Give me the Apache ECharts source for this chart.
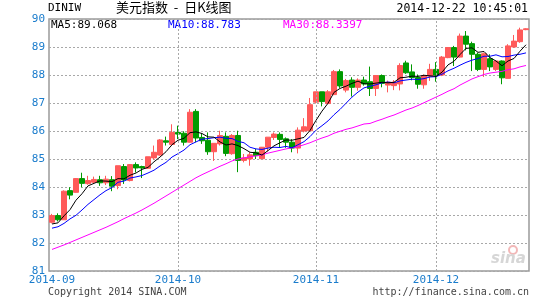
<!DOCTYPE html>
<html>
<head>
<meta charset="utf-8">
<script src="https://cdn.jsdelivr.net/npm/echarts@6/dist/echarts.min.js"></script>
<style>
html,body{margin:0;padding:0;background:#fff;}
#c{width:545px;height:300px;}
</style>
</head>
<body>
<div id="c"></div>
<script>
// ---- data ----
const categories = [
 '2014-09-02','2014-09-03','2014-09-04','2014-09-05','2014-09-08','2014-09-09','2014-09-10','2014-09-11','2014-09-12','2014-09-15',
 '2014-09-16','2014-09-17','2014-09-18','2014-09-19','2014-09-22','2014-09-23','2014-09-24','2014-09-25','2014-09-26','2014-09-29',
 '2014-09-30',
 '2014-10-01','2014-10-02','2014-10-03','2014-10-06','2014-10-07','2014-10-08','2014-10-09','2014-10-10','2014-10-13','2014-10-14',
 '2014-10-15','2014-10-16','2014-10-17','2014-10-20','2014-10-21','2014-10-22','2014-10-23','2014-10-24','2014-10-27','2014-10-28',
 '2014-10-29','2014-10-30','2014-10-31',
 '2014-11-03','2014-11-04','2014-11-05','2014-11-06','2014-11-07','2014-11-10','2014-11-11','2014-11-12','2014-11-13','2014-11-14',
 '2014-11-17','2014-11-18','2014-11-19','2014-11-20','2014-11-21','2014-11-24','2014-11-25','2014-11-26','2014-11-27','2014-11-28',
 '2014-12-01','2014-12-02','2014-12-03','2014-12-04','2014-12-05','2014-12-08','2014-12-09','2014-12-10','2014-12-11','2014-12-12',
 '2014-12-15','2014-12-16','2014-12-17','2014-12-18','2014-12-19','2014-12-22'
];
const opens = [
 82.74,82.98,82.83,83.87,83.81,84.30,84.12,84.17,84.26,84.15,
 84.26,84.05,84.73,84.23,84.80,84.73,84.67,85.04,85.14,85.65,
 85.52,85.95,85.92,85.60,86.70,85.77,85.67,85.26,85.54,85.81,
 85.19,85.84,84.95,85.00,85.24,85.01,85.42,85.77,85.88,85.72,
 85.60,85.39,86.00,86.01,87.03,87.40,86.98,87.30,88.12,87.46,
 87.82,87.56,87.82,87.76,87.52,87.98,87.64,87.62,87.68,88.43,
 88.11,87.91,87.65,87.96,88.20,88.00,88.62,88.98,88.64,89.39,
 89.12,88.74,88.20,88.58,88.20,88.50,87.88,89.00,89.19,89.62
];
const closes = [
 82.98,82.83,83.85,83.71,84.30,84.13,84.23,84.27,84.15,84.28,
 84.03,84.76,84.25,84.80,84.68,84.68,85.08,85.24,85.68,85.60,
 85.95,85.89,85.60,86.67,85.75,85.65,85.26,85.56,85.84,85.20,
 85.84,84.95,85.04,85.15,85.12,85.42,85.78,85.89,85.70,85.60,
 85.39,86.03,86.15,86.94,87.40,87.05,87.40,88.12,87.61,87.80,
 87.56,87.82,87.68,87.52,87.98,87.70,87.74,87.74,88.34,88.08,
 87.91,87.67,87.97,88.20,88.00,88.64,88.98,88.64,89.39,89.10,
 88.74,88.20,88.76,88.29,88.50,87.90,89.04,89.21,89.61,89.65
];
const lows = [
 82.70,82.77,82.82,83.56,83.80,83.99,84.08,84.11,84.04,84.07,
 83.85,83.92,84.11,84.20,84.52,84.32,84.65,84.98,85.12,85.48,
 85.46,85.71,85.48,85.59,85.60,85.54,85.15,84.93,85.48,85.10,
 85.15,84.53,84.88,84.76,85.00,85.00,85.27,85.68,85.42,85.40,
 85.24,85.20,85.95,85.99,86.98,86.88,86.96,87.28,87.54,87.38,
 87.23,87.44,87.62,87.25,87.25,87.56,87.38,87.46,87.45,88.04,
 87.81,87.51,87.51,87.79,87.76,87.96,88.60,88.32,88.62,88.88,
 88.14,88.14,87.93,88.14,88.14,87.67,87.88,88.98,89.15,89.60
];
const highs = [
 83.04,83.06,83.88,83.99,84.32,84.51,84.40,84.37,84.40,84.40,
 84.39,84.76,84.82,84.82,84.88,84.76,85.08,85.48,85.71,85.80,
 86.24,86.19,85.99,86.78,86.78,85.92,85.95,85.57,86.01,85.95,
 85.89,86.01,85.18,85.24,85.36,85.43,85.78,85.95,85.95,85.77,
 85.71,86.13,86.46,87.18,87.40,87.40,87.46,88.18,88.20,87.86,
 87.92,87.88,87.94,88.30,88.00,88.02,87.80,87.82,88.42,88.51,
 88.38,88.02,88.02,88.40,88.46,88.68,89.00,89.04,89.48,89.57,
 89.19,88.80,88.80,88.74,88.52,88.52,89.10,89.43,89.69,89.67
];
const ma5 = [
 82.68,82.72,82.97,83.19,83.53,83.76,84.04,84.13,84.22,84.21,
 84.19,84.30,84.29,84.42,84.50,84.63,84.70,84.90,85.07,85.26,
 85.51,85.67,85.74,85.94,85.97,85.91,85.79,85.78,85.61,85.50,
 85.54,85.48,85.37,85.24,85.22,85.14,85.30,85.47,85.58,85.68,
 85.67,85.72,85.77,86.02,86.38,86.71,86.99,87.38,87.52,87.60,
 87.70,87.78,87.69,87.68,87.71,87.74,87.72,87.74,87.90,87.92,
 87.96,87.95,87.99,87.97,87.95,88.10,88.36,88.49,88.73,88.95,
 88.97,88.81,88.84,88.62,88.50,88.33,88.50,88.59,88.85,89.08
];
const ma10 = [
 82.53,82.58,82.70,82.86,82.99,83.18,83.38,83.55,83.72,83.87,
 83.98,84.17,84.21,84.32,84.36,84.41,84.50,84.60,84.75,84.88,
 85.07,85.19,85.32,85.51,85.61,85.71,85.73,85.76,85.78,85.74,
 85.73,85.63,85.58,85.42,85.36,85.34,85.39,85.42,85.41,85.45,
 85.40,85.51,85.62,85.80,86.03,86.19,86.36,86.58,86.77,86.99,
 87.21,87.39,87.54,87.60,87.65,87.72,87.75,87.72,87.79,87.82,
 87.85,87.84,87.87,87.93,87.94,88.03,88.15,88.24,88.35,88.45,
 88.53,88.59,88.67,88.67,88.72,88.65,88.66,88.71,88.74,88.79
];
const ma30 = [
 81.77,81.85,81.93,82.02,82.11,82.20,82.29,82.38,82.47,82.56,
 82.66,82.76,82.87,82.97,83.07,83.18,83.30,83.42,83.55,83.68,
 83.81,83.94,84.07,84.20,84.33,84.44,84.54,84.64,84.74,84.83,
 84.93,85.00,85.04,85.08,85.11,85.15,85.21,85.26,85.31,85.36,
 85.40,85.44,85.51,85.58,85.67,85.75,85.82,85.92,85.99,86.06,
 86.11,86.18,86.25,86.27,86.35,86.42,86.50,86.57,86.66,86.75,
 86.82,86.91,87.01,87.11,87.21,87.31,87.42,87.51,87.64,87.75,
 87.86,87.94,88.02,88.07,88.10,88.13,88.19,88.22,88.29,88.34
];
const maLabels = ['MA5:89.068', 'MA10:88.783', 'MA30:88.3397'];
const yTicks = [81, 82, 83, 84, 85, 86, 87, 88, 89, 90];

// ---- chart ----
const MONO = '"DejaVu Sans Mono","Liberation Mono",monospace';
const BLUE_TXT = '#1a7ccc';
const UP = '#ff5a5a', DOWN = '#009a00';
const candleData = categories.map((d, i) => [opens[i], closes[i], lows[i], highs[i]]);
const monthStart = i => i === 0 || categories[i].slice(0, 7) !== categories[i - 1].slice(0, 7);
const monthLines = categories.filter((d, i) => i > 0 && monthStart(i)).map(d => ({ xAxis: d }));

const chart = echarts.init(document.getElementById('c'), null, { renderer: 'canvas' });
chart.setOption({
  animation: false,
  backgroundColor: '#ffffff',
  grid: { left: 49, top: 19, width: 480, height: 252, show: true, borderColor: '#9a9a9a', borderWidth: 1.5, backgroundColor: 'transparent' },
  xAxis: {
    type: 'category', data: categories, boundaryGap: true,
    axisLine: { show: false }, axisTick: { show: false }, splitLine: { show: false },
    axisLabel: {
      interval: (i) => monthStart(i),
      formatter: (v) => v.slice(0, 7),
      color: BLUE_TXT, fontFamily: MONO, fontSize: 11, margin: 4
    }
  },
  yAxis: {
    type: 'value', min: yTicks[0], max: yTicks[yTicks.length - 1], interval: 1, scale: true,
    axisLine: { show: false }, axisTick: { show: false },
    splitLine: { lineStyle: { color: '#a8a8a8', type: [2, 2], width: 1 } },
    axisLabel: { color: BLUE_TXT, fontFamily: MONO, fontSize: 11, margin: 4, padding: [0, 0, 4, 0] }
  },
  series: [
    {
      type: 'line', data: [], z: 1, silent: true,
      markLine: {
        silent: true, symbol: 'none', label: { show: false },
        lineStyle: { color: '#a8a8a8', type: [2, 2], width: 1 },
        data: monthLines
      }
    },
    {
      type: 'candlestick', data: candleData, barWidth: 5, z: 2,
      itemStyle: { color: UP, color0: DOWN, borderColor: UP, borderColor0: DOWN, borderWidth: 1 }
    },
    { type: 'line', data: ma30, symbol: 'none', z: 3, lineStyle: { color: '#ff00ff', width: 1 } },
    { type: 'line', data: ma10, symbol: 'none', z: 3, lineStyle: { color: '#0000ff', width: 1 } },
    { type: 'line', data: ma5, symbol: 'none', z: 3, lineStyle: { color: '#000000', width: 1 } }
  ],
  graphic: [
    { type: 'text', left: 48, top: 3, style: { text: 'DINIW', font: '11px ' + MONO, fill: '#000' } },
    { type: 'text', left: 116, top: 1, style: { text: '美元指数  -  日K线图', font: '13px "Noto Sans CJK SC"', fill: '#000' } },
    { type: 'text', right: 17, top: 3, style: { text: '2014-12-22 10:45:01', font: '11.5px ' + MONO, fill: '#000' } },
    { type: 'text', left: 51, top: 20, style: { text: maLabels[0], font: '11px ' + MONO, fill: '#000' } },
    { type: 'text', left: 168, top: 20, style: { text: maLabels[1], font: '11px ' + MONO, fill: '#0000ff' } },
    { type: 'text', left: 283, top: 20, style: { text: maLabels[2], font: '11px ' + MONO, fill: '#ff00ff' } },
    { type: 'text', left: 48, top: 287, style: { text: 'Copyright 2014 SINA.COM', font: '10px ' + MONO, fill: '#444' } },
    { type: 'text', right: 16, top: 287, style: { text: 'http://finance.sina.com.cn', font: '10px ' + MONO, fill: '#444' } },
    { type: 'circle', shape: { cx: 513, cy: 250, r: 4 }, style: { fill: 'none', stroke: '#f2b8b8', lineWidth: 2 } },
    { type: 'text', left: 491, top: 252, style: { text: 'sina', font: 'italic bold 15px "DejaVu Sans"', fill: '#d6d6d6' } }
  ]
});
</script>
</body>
</html>
